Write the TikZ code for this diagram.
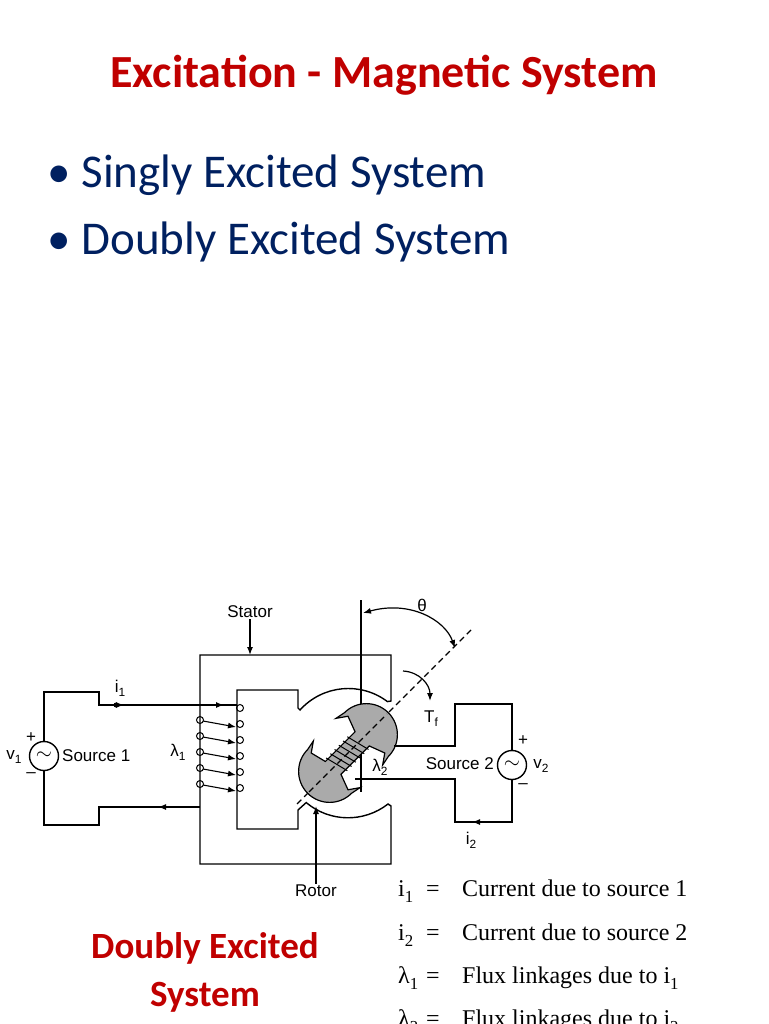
\documentclass[tikz,border=0pt]{standalone}
\usepackage{fontspec}
\setmainfont{Carlito}
\newfontfamily\diag{Liberation Sans}
\newfontfamily\leg{Liberation Serif}
\usetikzlibrary{arrows.meta}
\definecolor{tred}{RGB}{192,0,0}
\definecolor{tblue}{RGB}{0,32,96}
\definecolor{rgray}{RGB}{170,170,170}
\newcommand{\sbs}[1]{\raisebox{-0.25em}{\scalebox{0.7}{#1}}}
\tikzset{
  wire/.style={line width=1.4pt},
  lab/.style={font=\diag\fontsize{17}{19}\selectfont, inner sep=1pt},
  legt/.style={font=\leg\fontsize{24}{26}\selectfont, anchor=base west, inner sep=0pt},
  arr/.style={-{Latex[length=8pt,width=6pt]}},
  src/.style={circle, draw, line width=1.4pt, minimum size=29pt, inner sep=0pt},
}
\begin{document}
\begin{tikzpicture}[x=1pt,y=-1pt]
\useasboundingbox (0,0) rectangle (768,1024);
\clip (0,0) rectangle (768,1024);
% title and bullets
\node[font=\bfseries\fontsize{46}{50}\selectfont, text=tred] (title) at (384,75) {Excitation - Magnetic System};
\node[font=\fontsize{47}{50}\selectfont, text=tblue, anchor=base west] (b1) at (44,188) {•\ Singly Excited System};
\node[font=\fontsize{47}{50}\selectfont, text=tblue, anchor=base west] (b2) at (44,254) {•\ Doubly Excited System};
\node[font=\bfseries\fontsize{37}{48}\selectfont, text=tred, align=center] (cap) at (205,972) {Doubly Excited\\System};
% stator
\draw[wire, fill=white] (391,701) -- (391,655) -- (200,655) -- (200,864) -- (391,864) -- (391,806)
  -- (388,804) arc[start angle=52, end angle=130, radius=65] -- (298,810) -- (298,829) -- (237,829)
  -- (237,690) -- (298,690) -- (298,708) -- (300,710) arc[start angle=-138, end angle=-53, radius=65] -- cycle;
% theta reference line
\draw[line width=1.3pt] (361,600) -- (361,792);
% rotor
\begin{scope}[shift={(348,753)}, rotate=45]
  \draw[dash pattern=on 6pt off 4pt, line width=1.2pt] (-72,0) -- (175,0);
  \draw[line width=1.2pt, fill=rgray]
    (-22,-10) -- (20,-10) -- (26,-26) -- (16,-33) -- (26,-31) arc[start angle=-90, end angle=90, radius=31]
    -- (16,33) -- (26,26) -- (20,10) -- (-20,10) -- (-26,26) -- (-16,33) -- (-26,31)
    arc[start angle=90, end angle=270, radius=31] -- (-16,-33) -- (-26,-26) -- cycle;
  \draw[dash pattern=on 6pt off 4pt, line width=1.2pt] (-55,0) -- (55,0);
  \foreach \k in {-16,-10,...,16} \draw[line width=1pt] (\k-3,-12) -- (\k+3,12);
\end{scope}
% theta arrow
\draw[line width=1.2pt, {Latex[length=8pt,width=6pt]}-{Latex[length=8pt,width=6pt]}] (363,613) .. controls (410,600) and (445,620) .. (455,648);
\node[lab] (th) at (422,605) {θ};
% torque
\draw[line width=1.2pt, arr] (403,671) .. controls (420,672) and (430,685) .. (430,701);
\node[lab] (tf) at (431,719) {T\sbs{f}};
% source 1 circuit
\node[src] (s1) at (44,756) {\fontsize{20}{20}\selectfont$\sim$};
\draw[wire] (s1.north) -- (44,692) -- (99,692) -- (99,705) -- (237,705);
\draw[wire] (s1.south) -- (44,825) -- (99,825) -- (99,807) -- (200,807);
\draw[arr, line width=1.3pt] (105,705) -- (124,705);
\draw[arr, line width=1.3pt] (200,705) -- (224,705);
\draw[arr, line width=1.3pt] (180,807) -- (158,807);
\fill (116,705) circle (2.5pt);
\node[lab] (v1) at (14,757) {v\sbs{1}};
\node[lab] (p1) at (31,738) {+};
\node[lab] (m1) at (31,775) {–};
\node[lab, anchor=west] (so1) at (61,756) {Source 1};
\node[lab] (i1) at (120,688) {i\sbs{1}};
\node[lab] (l1) at (178,752) {λ\sbs{1}};
% stator coil
\foreach \k in {0,...,4} {
  \draw[line width=1pt] (200,720+16*\k) circle (3.5pt);
  \draw[line width=1pt] (240,708+16*\k) circle (3.5pt);
  \draw[arr, line width=1.1pt] (203,721+16*\k) -- (236,727+16*\k);
}
\draw[line width=1pt] (240,708+16*5) circle (3.5pt);
% source 2 circuit
\node[src] (s2) at (512,765) {\fontsize{20}{20}\selectfont$\sim$};
\draw[wire] (394,746) -- (455,746) -- (455,704) -- (512,704) -- (s2.north);
\draw[wire] (s2.south) -- (512,822) -- (455,822) -- (455,779) -- (355,779);
\draw[arr, line width=1.3pt] (487,822) -- (472,822);
\node[lab] (v2) at (541,766) {v\sbs{2}};
\node[lab] (p2) at (523,741) {+};
\node[lab] (m2) at (523,786) {–};
\node[lab, anchor=east] (so2) at (495,764) {Source 2};
\node[lab] (i2) at (471,840) {i\sbs{2}};
\node[lab] (l2) at (380,767) {λ\sbs{2}};
% stator / rotor labels
\node[lab] (st) at (250,612) {Stator};
\draw[arr, line width=1.3pt] (st.south) -- (250,655);
\node[lab] (ro) at (316,891) {Rotor};
\draw[arr, line width=1.3pt] (ro.north) -- (316,806);
% legend
\node[legt] (e1) at (398,896) {i\sbs{1}};
\node[legt] (e2) at (398,940) {i\sbs{2}};
\node[legt] (e3) at (398,983) {λ\sbs{1}};
\node[legt] (e4) at (398,1026) {λ\sbs{2}};
\foreach \y/\t in {896/{Current due to source 1},940/{Current due to source 2},983/{Flux linkages due to i\sbs{1}},1026/{Flux linkages due to i\sbs{2}}} {
  \node[legt] at (426,\y) {=};
  \node[legt] at (462,\y) {\t};
}
\end{tikzpicture}
\end{document}
